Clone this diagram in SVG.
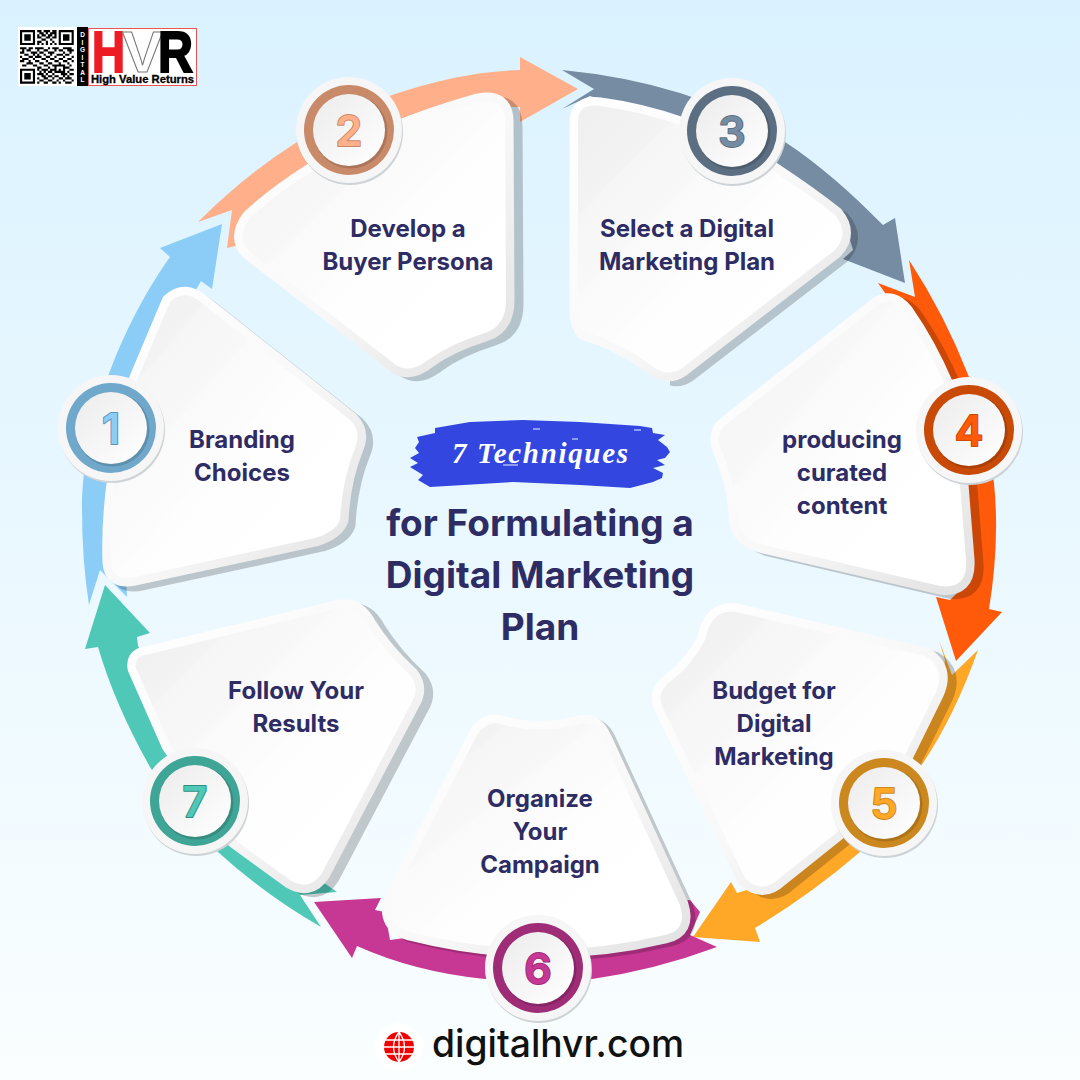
<svg xmlns="http://www.w3.org/2000/svg" width="1080" height="1080" viewBox="0 0 1080 1080">
<style>
.lbl{font-family:"Inter","Liberation Sans",sans-serif;font-weight:700;font-size:24px;fill:#2E2C64;text-anchor:middle}
.ttl{font-family:"Inter","Liberation Sans",sans-serif;font-weight:700;font-size:37px;fill:#2E2C64;text-anchor:middle}
.num{font-family:"Inter","Liberation Sans",sans-serif;font-weight:600;font-size:43px;text-anchor:middle;stroke-width:2;stroke-linejoin:round;paint-order:stroke}
.shadow{fill:#000;stroke:#000;stroke-width:17;stroke-linejoin:round;opacity:.2}
.edge{fill:url(#edge);stroke:url(#edge);stroke-width:17;stroke-linejoin:round}
.face{fill:url(#face)}
.hvr{font-family:"Liberation Sans",sans-serif;font-weight:700;font-size:58px}
</style>
<defs>
<linearGradient id="bg" x1="0" y1="0" x2="0" y2="1"><stop offset="0" stop-color="#DAF2FF"/><stop offset="1" stop-color="#FAFEFF"/></linearGradient>
<linearGradient id="edge" x1="0" y1="0" x2="1" y2="1"><stop offset="0" stop-color="#FFFFFF"/><stop offset=".55" stop-color="#F8F8F8"/><stop offset="1" stop-color="#E2E2E2"/></linearGradient>
<linearGradient id="face" x1="0" y1="0" x2="1" y2="1"><stop offset="0" stop-color="#EFEFEF"/><stop offset=".2" stop-color="#F3F3F3"/><stop offset=".21" stop-color="#F6F6F6"/><stop offset=".35" stop-color="#F8F8F8"/><stop offset=".36" stop-color="#FAFAFA"/><stop offset=".5" stop-color="#FCFCFC"/><stop offset=".51" stop-color="#FDFDFD"/><stop offset=".75" stop-color="#FFFFFF"/><stop offset="1" stop-color="#FFFFFF"/></linearGradient>
<linearGradient id="disc" x1="0" y1="0" x2="1" y2="1"><stop offset="0" stop-color="#ECECEC"/><stop offset="1" stop-color="#FFFFFF"/></linearGradient>
<clipPath id="clip3"><path d="M845 210L890 240V400H670V375Z"/></clipPath>
<g id="badge">
<circle cx="1" cy="2" r="53" fill="#CDD3D6"/>
<circle r="53" fill="#F6F6F6"/>
<circle r="45" fill="currentColor"/>
<circle cx="1.500" cy="1.500" r="37" fill="#000" opacity=".15"/>
<circle r="36" fill="url(#disc)"/>
</g>
</defs>
<rect width="1080" height="1080" fill="url(#bg)"/>

<g id="logo">
<rect x="18" y="27" width="59" height="59" fill="#fff"/>
<g transform="translate(20 30) scale(2.15)">
<path fill="#000" fill-rule="evenodd" d="M0 0h7v7h-7zM1 1v5h5v-5zM2 2h3v3h-3zM18 0h7v7h-7zM19 1v5h5v-5zM20 2h3v3h-3zM0 18h7v7h-7zM1 19v5h5v-5zM2 20h3v3h-3z"/>
<path fill="none" stroke="#000" d="M8 .5h2M11 .5h3M15 .5h2M9 1.500h2M12 1.500h1M14 1.500h3M8 2.500h1M10 2.500h2M13 2.500h2M16 2.500h1M8 3.500h2M12 3.500h2M15 3.500h2M10 4.500h2M14 4.500h1M8 5.500h2M12 5.500h1M15 5.500h1M8 6.500h1M10 6.500h1M12 6.500h1M14 6.500h1M16 6.500h1M0 8.500h3M4 8.500h2M7 8.500h4M13 8.500h1M15 8.500h3M20 8.500h4M1 9.500h1M3 9.500h2M8 9.500h1M11 9.500h2M16 9.500h1M18 9.500h2M22 9.500h3M0 10.500h2M5 10.500h3M9 10.500h2M13 10.500h3M20 10.500h1M23 10.500h1M2 11.500h2M6 11.500h1M8 11.500h1M11 11.500h1M14 11.500h1M17 11.500h3M21 11.500h2M0 12.500h1M4 12.500h2M7 12.500h3M12 12.500h2M16 12.500h1M20 12.500h1M24 12.500h1M1 13.500h3M6 13.500h1M10 13.500h2M14 13.500h2M18 13.500h2M22 13.500h2M0 14.500h2M4 14.500h1M7 14.500h2M12 14.500h1M16 14.500h2M20 14.500h2M24 14.500h1M3 15.500h3M9 15.500h2M13 15.500h2M18 15.500h1M22 15.500h1M1 16.500h2M6 16.500h2M11 16.500h2M15 16.500h6M23 16.500h1M8 17.500h2M13 17.500h1M16 17.500h1M20 17.500h3M8 18.500h1M10 18.500h3M14 18.500h3M18 18.500h1M20 18.500h1M23 18.500h2M9 19.500h1M11 19.500h1M13 19.500h2M16 19.500h5M22 19.500h1M8 20.500h3M12 20.500h1M15 20.500h1M19 20.500h3M23 20.500h2M10 21.500h2M13 21.500h2M16 21.500h2M20 21.500h1M22 21.500h1M8 22.500h1M11 22.500h2M15 22.500h1M18 22.500h2M21 22.500h3M9 23.500h2M13 23.500h2M17 23.500h1M20 23.500h1M24 23.500h1M8 24.500h1M11 24.500h2M15 24.500h2M18 24.500h1M21 24.500h3"/>
</g>
<rect x="77" y="27" width="11" height="59" fill="#000"/>
<text x="82.5 82.5 82.5 82.5 82.5 82.5 82.5" y="37 44.500 52 59.500 67 74.500 82" font-family="Liberation Sans,sans-serif" font-weight="700" font-size="6.500" fill="#fff" text-anchor="middle">DIGITAL</text>
<rect x="88.500" y="28.500" width="108" height="57" fill="#fff" stroke="#EE5555" stroke-width="1"/>
<text class="hvr" x="92" y="71.500" textLength="33" lengthAdjust="spacingAndGlyphs" fill="#ED1C24" stroke="#ED1C24" stroke-width="2">H</text>
<text class="hvr" x="122" y="71.500" textLength="41" lengthAdjust="spacingAndGlyphs" fill="#fff" stroke="#777" stroke-width="1">V</text>
<text class="hvr" x="158" y="71.500" textLength="35" lengthAdjust="spacingAndGlyphs" fill="#000" stroke="#000" stroke-width="2">R</text>
<text x="91" y="83" textLength="103" lengthAdjust="spacingAndGlyphs" font-family="Liberation Sans,sans-serif" font-weight="700" font-size="10" fill="#000" stroke="#000" stroke-width=".3">High Value Returns</text>
</g>

<g id="connectors">
<path id="arrow1" fill="#8BCDF7" d="M89 605L100 570L127 597L125 560L125 450L150 370L201 281L212 289L222 224L160 248L170 257C125 320 82 420 82 510Q82 560 89 605Z"/>
<path id="arrow2" fill="#FFAF8A" d="M198 222L232 210L227 248L260 240L320 180L400 130L505 107L520 107L520 122L578 89L520 57L520 70C440 72 350 105 297 142Q245 175 198 222Z"/>
<path id="arrow3" fill="#768CA3" d="M562 70L594 89L562 109L590 96L700 130L800 190L850 240L853 250L843 259L905 283L895 218L883 225C850 192 820 165 785 142Q735 110 680 93Q625 76 562 70Z"/>
<path id="arrow4" fill="#FF5A0A" d="M909 260L915 297L878 283L890 300L950 420L960 590L950 600L936 597L956 661L1002 612L989 609C997 560 999 510 991 460Q982 410 969 377Q945 315 909 260Z"/>
<path id="arrow5" fill="#FFA726" d="M939 640L952 675L978 650Q955 715 923 763Q895 810 860 852Q810 895 755 928L760 942L693 937L731 882L737 893L780 880L940 690L945 660Z"/>
<path id="arrow6" fill="#C73794" d="M700 912L690 935L717 947Q655 970 592 979Q538 982 485 979Q415 972 357 946L352 958L314 902L381 898L375 910L385 912L390 940L690 900Z"/>
<path id="arrow7" fill="#50C8B8" d="M321 927Q265 895 218 852Q180 815 150 767Q115 705 98 647L85 649L105 585L150 633L137 637L138 646L170 700L220 830L320 880L337 892L300 895Z"/>
</g>

<g id="card1">
<path class="shadow" transform="translate(7 5)" d="M170 302Q185 288 202 303L350 420Q362 432 355 448Q342 480 340 520Q335 532 315 538L135 577Q112 582 111 562Q108 480 138 378Z"/>
<path class="edge" d="M170 302Q185 288 202 303L350 420Q362 432 355 448Q342 480 340 520Q335 532 315 538L135 577Q112 582 111 562Q108 480 138 378Z"/>
<path class="face" d="M170 302Q185 288 202 303L350 420Q362 432 355 448Q342 480 340 520Q335 532 315 538L135 577Q112 582 111 562Q108 480 138 378Z"/>
<text class="lbl" x="242" y="448">Branding</text><text class="lbl" x="242" y="481">Choices</text>
</g>
<g id="card2">
<path class="shadow" transform="translate(9 4)" d="M311 172Q385 128 478 102Q505 96 505 122L506 300Q506 326 485 333Q450 344 428 360Q410 374 396 365L250 252Q235 238 250 218Q275 195 311 172Z"/>
<path class="edge" d="M311 172Q385 128 478 102Q505 96 505 122L506 300Q506 326 485 333Q450 344 428 360Q410 374 396 365L250 252Q235 238 250 218Q275 195 311 172Z"/>
<path class="face" d="M311 172Q385 128 478 102Q505 96 505 122L506 300Q506 326 485 333Q450 344 428 360Q410 374 396 365L250 252Q235 238 250 218Q275 195 311 172Z"/>
<text class="lbl" x="408" y="237">Develop a</text><text class="lbl" x="408" y="270">Buyer Persona</text>
</g>
<g id="card3">
<g clip-path="url(#clip3)"><path class="shadow" transform="translate(7 5)" d="M578 122Q578 103 600 106Q690 118 772 170Q810 195 835 215Q850 233 835 250L682 368Q668 378 652 366Q620 342 585 332Q578 325 578 310Z"/></g>
<path class="edge" d="M578 122Q578 103 600 106Q690 118 772 170Q810 195 835 215Q850 233 835 250L682 368Q668 378 652 366Q620 342 585 332Q578 325 578 310Z"/>
<path class="face" d="M578 122Q578 103 600 106Q690 118 772 170Q810 195 835 215Q850 233 835 250L682 368Q668 378 652 366Q620 342 585 332Q578 325 578 310Z"/>
<text class="lbl" x="687" y="237">Select a Digital</text><text class="lbl" x="687" y="270">Marketing Plan</text>
</g>
<g id="card4">
<path class="shadow" transform="translate(9 4)" d="M727 424L878 305Q892 296 905 312Q928 345 945 385L958 460L966 560Q968 590 940 586L760 544Q738 538 737 515Q735 480 720 447Q716 432 727 424Z"/>
<path class="edge" d="M727 424L878 305Q892 296 905 312Q928 345 945 385L958 460L966 560Q968 590 940 586L760 544Q738 538 737 515Q735 480 720 447Q716 432 727 424Z"/>
<path class="face" d="M727 424L878 305Q892 296 905 312Q928 345 945 385L958 460L966 560Q968 590 940 586L760 544Q738 538 737 515Q735 480 720 447Q716 432 727 424Z"/>
<text class="lbl" x="842" y="448">producing</text><text class="lbl" x="842" y="481">curated</text><text class="lbl" x="842" y="514">content</text>
</g>
<g id="card5">
<path class="shadow" transform="translate(9 4)" d="M705 640Q712 608 736 612L925 656Q946 668 936 692Q915 735 900 765L840 830L780 878Q762 895 745 878L662 706Q656 692 672 680Q692 665 705 640Z"/>
<path class="edge" d="M705 640Q712 608 736 612L925 656Q946 668 936 692Q915 735 900 765L840 830L780 878Q762 895 745 878L662 706Q656 692 672 680Q692 665 705 640Z"/>
<path class="face" d="M705 640Q712 608 736 612L925 656Q946 668 936 692Q915 735 900 765L840 830L780 878Q762 895 745 878L662 706Q656 692 672 680Q692 665 705 640Z"/>
<text class="lbl" x="774" y="699">Budget for</text><text class="lbl" x="774" y="732">Digital</text><text class="lbl" x="774" y="765">Marketing</text>
</g>
<g id="card6">
<path class="shadow" transform="translate(5 3)" d="M477 735Q487 720 500 724Q540 735 580 724Q595 720 603 738L680 905Q688 930 665 935Q540 965 410 932Q385 925 392 900Z"/>
<path class="edge" d="M477 735Q487 720 500 724Q540 735 580 724Q595 720 603 738L680 905Q688 930 665 935Q540 965 410 932Q385 925 392 900Z"/>
<path class="face" d="M477 735Q487 720 500 724Q540 735 580 724Q595 720 603 738L680 905Q688 930 665 935Q540 965 410 932Q385 925 392 900Z"/>
<text class="lbl" x="540" y="807">Organize</text><text class="lbl" x="540" y="840">Your</text><text class="lbl" x="540" y="873">Campaign</text>
</g>
<g id="card7">
<path class="shadow" transform="translate(9 4)" d="M136 668Q134 655 150 654L340 608Q358 606 368 625Q385 652 410 675Q420 688 412 702L322 873Q310 892 290 880L235 840L170 745Z"/>
<path class="edge" d="M136 668Q134 655 150 654L340 608Q358 606 368 625Q385 652 410 675Q420 688 412 702L322 873Q310 892 290 880L235 840L170 745Z"/>
<path class="face" d="M136 668Q134 655 150 654L340 608Q358 606 368 625Q385 652 410 675Q420 688 412 702L322 873Q310 892 290 880L235 840L170 745Z"/>
<text class="lbl" x="296" y="699">Follow Your</text><text class="lbl" x="296" y="732">Results</text>
</g>

<g id="badge1"><use href="#badge" x="111" y="428" color="#6FA8CB"/><text class="num" x="111" y="444" fill="#8BCDF7" stroke="#5E97BA">1</text></g>
<g id="badge2"><use href="#badge" x="349" y="130" color="#C98A6A"/><text class="num" x="349" y="146" fill="#FFAF8A" stroke="#C98A6A">2</text></g>
<g id="badge3"><use href="#badge" x="732" y="131" color="#5C6F82"/><text class="num" x="732" y="147" fill="#768CA3" stroke="#5C6F82">3</text></g>
<g id="badge4"><use href="#badge" x="969" y="430" color="#C94A07"/><text class="num" x="969" y="446" fill="#FF5A0A" stroke="#C94A07">4</text></g>
<g id="badge5"><use href="#badge" x="884" y="803" color="#CB881E"/><text class="num" x="884" y="819" fill="#FFA726" stroke="#CB881E">5</text></g>
<g id="badge6"><use href="#badge" x="538" y="968" color="#9E2C77"/><text class="num" x="538" y="984" fill="#C73794" stroke="#9E2C77">6</text></g>
<g id="badge7"><use href="#badge" x="195" y="801" color="#3FA596"/><text class="num" x="195" y="817" fill="#50C8B8" stroke="#2F8F80">7</text></g>

<g id="title">
<path fill="#3347E0" d="M470 422L523 420L580 422L640 426L652 428L653 433L665 435L658 440L667 447L670 452L665 458L657 460L665 465L653 468L663 473L662 478L653 482L630 488L580 485L513 482L430 487L418 480L423 475L410 467L418 463L410 458L419 453L415 448L419 442L417 437L435 433L435 428Z"/>
<path fill="none" stroke="#E6F6FF" stroke-width="1.200" d="M533 429H540M634 430H641M572 439H578M503 465H518"/>
<text x="540" y="463" text-anchor="middle" font-family="Liberation Serif,serif" font-style="italic" font-weight="700" font-size="29" fill="#fff" textLength="176">7 Techniques</text>
<text class="ttl" x="540" y="536">for Formulating a</text>
<text class="ttl" x="540" y="588">Digital Marketing</text>
<text class="ttl" x="540" y="640">Plan</text>
</g>

<g id="website">
<circle cx="399" cy="1047" r="24" fill="#FFFFFF"/>
<circle cx="399" cy="1047" r="15" fill="#F00000"/>
<path fill="none" stroke="#fff" stroke-width="1.300" d="M385 1040H413M384 1047H414M385 1054H413M399 1032V1062M399 1032Q388 1047 399 1062M399 1032Q410 1047 399 1062"/>
<text x="432" y="1057" font-family="Inter,Liberation Sans,sans-serif" font-weight="500" font-size="38" fill="#111" textLength="252" lengthAdjust="spacingAndGlyphs">digitalhvr.com</text>
</g>
</svg>
